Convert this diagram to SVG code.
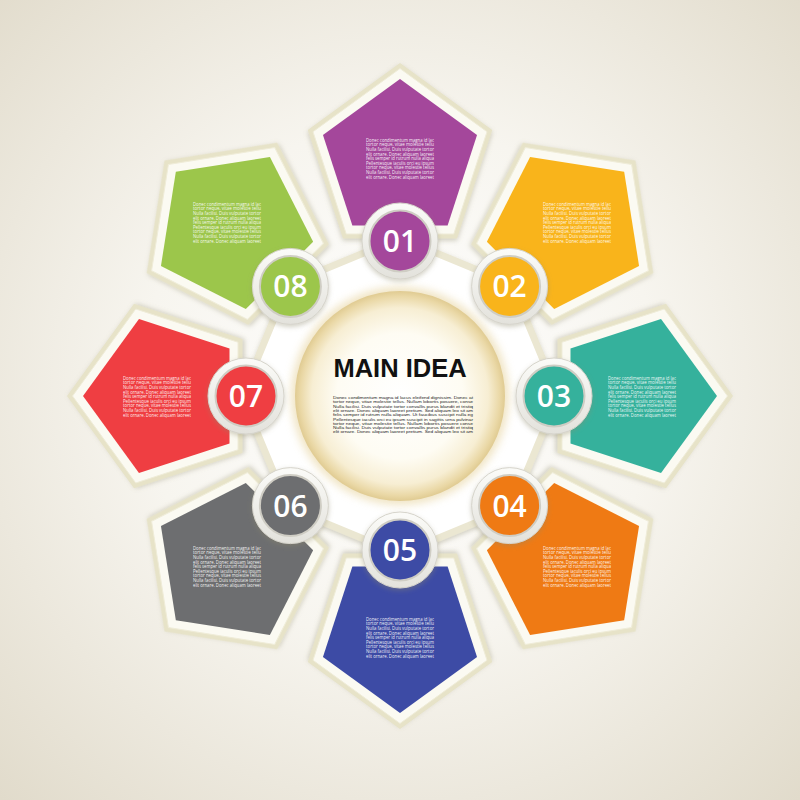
<svg xmlns="http://www.w3.org/2000/svg" xmlns:xlink="http://www.w3.org/1999/xlink" width="800" height="800" viewBox="0 0 800 800">
<defs>
<radialGradient id="bg" cx="50%" cy="48%" r="72%">
<stop offset="0" stop-color="#ffffff"/>
<stop offset="0.45" stop-color="#f7f5ef"/>
<stop offset="1" stop-color="#e1dbcb"/>
</radialGradient>
<radialGradient id="core" cx="50%" cy="50%" r="50%">
<stop offset="0" stop-color="#ffffff"/>
<stop offset="0.6" stop-color="#fefcf3"/>
<stop offset="0.84" stop-color="#f7eed3"/>
<stop offset="0.95" stop-color="#ead8a6"/>
<stop offset="1" stop-color="#e0cb92"/>
</radialGradient>
<linearGradient id="ringg" x1="0" y1="0" x2="0" y2="1">
<stop offset="0" stop-color="#fbfbf8"/>
<stop offset="1" stop-color="#e3e2dc"/>
</linearGradient>
<filter id="sh" x="-20%" y="-20%" width="140%" height="140%">
<feDropShadow dx="0" dy="2" stdDeviation="2.5" flood-color="#8f896c" flood-opacity="0.4"/>
</filter>
<filter id="glow" x="-20%" y="-20%" width="140%" height="140%">
<feGaussianBlur stdDeviation="4"/>
</filter>
<polygon id="pOuter" points="0,-333 92.26,-265.97 57.01,-157.53 -57.01,-157.53 -92.26,-265.97"/>
<polygon id="pInner" points="0,-327.5 87.03,-264.28 53.78,-161.98 -53.78,-161.98 -87.03,-264.28"/>
<polygon id="pCore" points="0,-317 77.04,-261.03 47.61,-170.47 -47.61,-170.47 -77.04,-261.03"/>
<style>
.frame{fill:#e7e3c8;filter:url(#sh)}
.frin{fill:#fbfaf2;stroke:#efecd8;stroke-width:1}
.para{font-family:"Open Sans","Liberation Sans",sans-serif;font-size:4.6px;fill:#ffffff;fill-opacity:0.92}
.cpara{font-family:"Liberation Sans",Arial,sans-serif;font-size:4.3px;fill:#222222}
.num{font-family:"Open Sans","Liberation Sans",sans-serif;font-weight:600;font-size:30px;fill:#ffffff;text-anchor:middle}
.ring{fill:url(#ringg);stroke:#d6d4cb;stroke-width:1;filter:url(#sh)}
.dot{stroke:#cfcdc4;stroke-width:2}
</style>
</defs>

<rect width="800" height="800" fill="url(#bg)"/>

<g id="hub">
<polygon points="400,238 511.7,284.3 558,396 511.7,507.7 400,554 288.3,507.7 242,396 288.3,284.3" fill="#ffffff" stroke="#ebe7d2" stroke-width="7" stroke-linejoin="round" filter="url(#sh)"/>
</g>

<g id="frames">
<g transform="translate(400,396) rotate(0)"><use href="#pOuter" class="frame"/><use href="#pInner" class="frin"/></g>
<g transform="translate(400,396) rotate(45)"><use href="#pOuter" class="frame"/><use href="#pInner" class="frin"/></g>
<g transform="translate(400,396) rotate(90)"><use href="#pOuter" class="frame"/><use href="#pInner" class="frin"/></g>
<g transform="translate(400,396) rotate(135)"><use href="#pOuter" class="frame"/><use href="#pInner" class="frin"/></g>
<g transform="translate(400,396) rotate(180)"><use href="#pOuter" class="frame"/><use href="#pInner" class="frin"/></g>
<g transform="translate(400,396) rotate(225)"><use href="#pOuter" class="frame"/><use href="#pInner" class="frin"/></g>
<g transform="translate(400,396) rotate(270)"><use href="#pOuter" class="frame"/><use href="#pInner" class="frin"/></g>
<g transform="translate(400,396) rotate(315)"><use href="#pOuter" class="frame"/><use href="#pInner" class="frin"/></g>
</g>

<g id="center">
<circle cx="400" cy="396" r="109" fill="#ead9aa" opacity="0.7" filter="url(#glow)"/>
<circle cx="400" cy="396" r="105" fill="url(#core)"/>
<text x="400" y="377" font-family="Liberation Sans, Arial, sans-serif" font-weight="700" font-size="25.5" fill="#111111" text-anchor="middle">MAIN IDEA</text>
<text class="cpara">
<tspan x="333" y="399" textLength="140" lengthAdjust="spacingAndGlyphs">Donec condimentum magna id lacus eleifend dignissim. Donec at</tspan>
<tspan x="333" y="403.3" textLength="140" lengthAdjust="spacingAndGlyphs">tortor neque, vitae molestie tellus. Nullam lobortis posuere, conse</tspan>
<tspan x="333" y="407.6" textLength="140" lengthAdjust="spacingAndGlyphs">Nulla facilisi. Duis vulputate tortor convallis purus blandit et tristiq</tspan>
<tspan x="333" y="411.9" textLength="140" lengthAdjust="spacingAndGlyphs">elit ornare. Donec aliquam laoreet pretium. Sed aliquam leo sit am</tspan>
<tspan x="333" y="416.2" textLength="140" lengthAdjust="spacingAndGlyphs">felis semper id rutrum nulla aliquam. Ut faucibus suscipit nulla eg</tspan>
<tspan x="333" y="420.5" textLength="140" lengthAdjust="spacingAndGlyphs">Pellentesque iaculis orci eu ipsum suscipit in sagittis urna pulvinar</tspan>
<tspan x="333" y="424.8" textLength="140" lengthAdjust="spacingAndGlyphs">tortor neque, vitae molestie tellus. Nullam lobortis posuere conse</tspan>
<tspan x="333" y="429.1" textLength="140" lengthAdjust="spacingAndGlyphs">Nulla facilisi. Duis vulputate tortor convallis purus blandit et tristiq</tspan>
<tspan x="333" y="433.4" textLength="140" lengthAdjust="spacingAndGlyphs">elit ornare. Donec aliquam laoreet pretium. Sed aliquam leo sit am</tspan>
</text>
</g>

<g id="node01">
<use href="#pCore" fill="#a4479b" transform="translate(400,396) rotate(0)"/>
<text class="para">
<tspan x="366" y="141.8" textLength="68" lengthAdjust="spacingAndGlyphs">Donec condimentum magna id lac</tspan>
<tspan x="366" y="146.4" textLength="68" lengthAdjust="spacingAndGlyphs">tortor neque, vitae molestie tellu</tspan>
<tspan x="366" y="151" textLength="68" lengthAdjust="spacingAndGlyphs">Nulla facilisi. Duis vulputate tortor</tspan>
<tspan x="366" y="155.6" textLength="68" lengthAdjust="spacingAndGlyphs">elit ornare. Donec aliquam laoreet</tspan>
<tspan x="366" y="160.2" textLength="68" lengthAdjust="spacingAndGlyphs">felis semper id rutrum nulla aliqua</tspan>
<tspan x="366" y="164.8" textLength="68" lengthAdjust="spacingAndGlyphs">Pellentesque iaculis orci eu ipsum</tspan>
<tspan x="366" y="169.4" textLength="68" lengthAdjust="spacingAndGlyphs">tortor neque, vitae molestie tellus</tspan>
<tspan x="366" y="174" textLength="68" lengthAdjust="spacingAndGlyphs">Nulla facilisi. Duis vulputate tortor</tspan>
<tspan x="366" y="178.6" textLength="68" lengthAdjust="spacingAndGlyphs">elit ornare. Donec aliquam laoreet</tspan>
</text>
<circle class="ring" cx="400" cy="241" r="38"/>
<circle class="dot" cx="400" cy="241" r="30.5" fill="#a4479b"/>
<text class="num" x="400" y="252">01</text>
</g>

<g id="node02">
<use href="#pCore" fill="#f9b41b" transform="translate(400,396) rotate(45)"/>
<text class="para">
<tspan x="543" y="205.8" textLength="68" lengthAdjust="spacingAndGlyphs">Donec condimentum magna id lac</tspan>
<tspan x="543" y="210.4" textLength="68" lengthAdjust="spacingAndGlyphs">tortor neque, vitae molestie tellu</tspan>
<tspan x="543" y="215" textLength="68" lengthAdjust="spacingAndGlyphs">Nulla facilisi. Duis vulputate tortor</tspan>
<tspan x="543" y="219.6" textLength="68" lengthAdjust="spacingAndGlyphs">elit ornare. Donec aliquam laoreet</tspan>
<tspan x="543" y="224.2" textLength="68" lengthAdjust="spacingAndGlyphs">felis semper id rutrum nulla aliqua</tspan>
<tspan x="543" y="228.8" textLength="68" lengthAdjust="spacingAndGlyphs">Pellentesque iaculis orci eu ipsum</tspan>
<tspan x="543" y="233.4" textLength="68" lengthAdjust="spacingAndGlyphs">tortor neque, vitae molestie tellus</tspan>
<tspan x="543" y="238" textLength="68" lengthAdjust="spacingAndGlyphs">Nulla facilisi. Duis vulputate tortor</tspan>
<tspan x="543" y="242.6" textLength="68" lengthAdjust="spacingAndGlyphs">elit ornare. Donec aliquam laoreet</tspan>
</text>
<circle class="ring" cx="509.6" cy="286.4" r="38"/>
<circle class="dot" cx="509.6" cy="286.4" r="30.5" fill="#f9b41b"/>
<text class="num" x="509.6" y="297.4">02</text>
</g>

<g id="node03">
<use href="#pCore" fill="#35b19c" transform="translate(400,396) rotate(90)"/>
<text class="para">
<tspan x="608" y="379.8" textLength="68" lengthAdjust="spacingAndGlyphs">Donec condimentum magna id lac</tspan>
<tspan x="608" y="384.4" textLength="68" lengthAdjust="spacingAndGlyphs">tortor neque, vitae molestie tellu</tspan>
<tspan x="608" y="389" textLength="68" lengthAdjust="spacingAndGlyphs">Nulla facilisi. Duis vulputate tortor</tspan>
<tspan x="608" y="393.6" textLength="68" lengthAdjust="spacingAndGlyphs">elit ornare. Donec aliquam laoreet</tspan>
<tspan x="608" y="398.2" textLength="68" lengthAdjust="spacingAndGlyphs">felis semper id rutrum nulla aliqua</tspan>
<tspan x="608" y="402.8" textLength="68" lengthAdjust="spacingAndGlyphs">Pellentesque iaculis orci eu ipsum</tspan>
<tspan x="608" y="407.4" textLength="68" lengthAdjust="spacingAndGlyphs">tortor neque, vitae molestie tellus</tspan>
<tspan x="608" y="412" textLength="68" lengthAdjust="spacingAndGlyphs">Nulla facilisi. Duis vulputate tortor</tspan>
<tspan x="608" y="416.6" textLength="68" lengthAdjust="spacingAndGlyphs">elit ornare. Donec aliquam laoreet</tspan>
</text>
<circle class="ring" cx="554" cy="396" r="38"/>
<circle class="dot" cx="554" cy="396" r="30.5" fill="#35b19c"/>
<text class="num" x="554" y="407">03</text>
</g>

<g id="node04">
<use href="#pCore" fill="#ef7a14" transform="translate(400,396) rotate(135)"/>
<text class="para">
<tspan x="543" y="549.8" textLength="68" lengthAdjust="spacingAndGlyphs">Donec condimentum magna id lac</tspan>
<tspan x="543" y="554.4" textLength="68" lengthAdjust="spacingAndGlyphs">tortor neque, vitae molestie tellu</tspan>
<tspan x="543" y="559" textLength="68" lengthAdjust="spacingAndGlyphs">Nulla facilisi. Duis vulputate tortor</tspan>
<tspan x="543" y="563.6" textLength="68" lengthAdjust="spacingAndGlyphs">elit ornare. Donec aliquam laoreet</tspan>
<tspan x="543" y="568.2" textLength="68" lengthAdjust="spacingAndGlyphs">felis semper id rutrum nulla aliqua</tspan>
<tspan x="543" y="572.8" textLength="68" lengthAdjust="spacingAndGlyphs">Pellentesque iaculis orci eu ipsum</tspan>
<tspan x="543" y="577.4" textLength="68" lengthAdjust="spacingAndGlyphs">tortor neque, vitae molestie tellus</tspan>
<tspan x="543" y="582" textLength="68" lengthAdjust="spacingAndGlyphs">Nulla facilisi. Duis vulputate tortor</tspan>
<tspan x="543" y="586.6" textLength="68" lengthAdjust="spacingAndGlyphs">elit ornare. Donec aliquam laoreet</tspan>
</text>
<circle class="ring" cx="509.6" cy="505.6" r="38"/>
<circle class="dot" cx="509.6" cy="505.6" r="30.5" fill="#ef7a14"/>
<text class="num" x="509.6" y="516.6">04</text>
</g>

<g id="node05">
<use href="#pCore" fill="#3d4ba5" transform="translate(400,396) rotate(180)"/>
<text class="para">
<tspan x="366" y="620.8" textLength="68" lengthAdjust="spacingAndGlyphs">Donec condimentum magna id lac</tspan>
<tspan x="366" y="625.4" textLength="68" lengthAdjust="spacingAndGlyphs">tortor neque, vitae molestie tellu</tspan>
<tspan x="366" y="630" textLength="68" lengthAdjust="spacingAndGlyphs">Nulla facilisi. Duis vulputate tortor</tspan>
<tspan x="366" y="634.6" textLength="68" lengthAdjust="spacingAndGlyphs">elit ornare. Donec aliquam laoreet</tspan>
<tspan x="366" y="639.2" textLength="68" lengthAdjust="spacingAndGlyphs">felis semper id rutrum nulla aliqua</tspan>
<tspan x="366" y="643.8" textLength="68" lengthAdjust="spacingAndGlyphs">Pellentesque iaculis orci eu ipsum</tspan>
<tspan x="366" y="648.4" textLength="68" lengthAdjust="spacingAndGlyphs">tortor neque, vitae molestie tellus</tspan>
<tspan x="366" y="653" textLength="68" lengthAdjust="spacingAndGlyphs">Nulla facilisi. Duis vulputate tortor</tspan>
<tspan x="366" y="657.6" textLength="68" lengthAdjust="spacingAndGlyphs">elit ornare. Donec aliquam laoreet</tspan>
</text>
<circle class="ring" cx="400" cy="550" r="38"/>
<circle class="dot" cx="400" cy="550" r="30.5" fill="#3d4ba5"/>
<text class="num" x="400" y="561">05</text>
</g>

<g id="node06">
<use href="#pCore" fill="#6d6e70" transform="translate(400,396) rotate(225)"/>
<text class="para">
<tspan x="193" y="549.8" textLength="68" lengthAdjust="spacingAndGlyphs">Donec condimentum magna id lac</tspan>
<tspan x="193" y="554.4" textLength="68" lengthAdjust="spacingAndGlyphs">tortor neque, vitae molestie tellu</tspan>
<tspan x="193" y="559" textLength="68" lengthAdjust="spacingAndGlyphs">Nulla facilisi. Duis vulputate tortor</tspan>
<tspan x="193" y="563.6" textLength="68" lengthAdjust="spacingAndGlyphs">elit ornare. Donec aliquam laoreet</tspan>
<tspan x="193" y="568.2" textLength="68" lengthAdjust="spacingAndGlyphs">felis semper id rutrum nulla aliqua</tspan>
<tspan x="193" y="572.8" textLength="68" lengthAdjust="spacingAndGlyphs">Pellentesque iaculis orci eu ipsum</tspan>
<tspan x="193" y="577.4" textLength="68" lengthAdjust="spacingAndGlyphs">tortor neque, vitae molestie tellus</tspan>
<tspan x="193" y="582" textLength="68" lengthAdjust="spacingAndGlyphs">Nulla facilisi. Duis vulputate tortor</tspan>
<tspan x="193" y="586.6" textLength="68" lengthAdjust="spacingAndGlyphs">elit ornare. Donec aliquam laoreet</tspan>
</text>
<circle class="ring" cx="290.4" cy="505.6" r="38"/>
<circle class="dot" cx="290.4" cy="505.6" r="30.5" fill="#6d6e70"/>
<text class="num" x="290.4" y="516.6">06</text>
</g>

<g id="node07">
<use href="#pCore" fill="#ef3e42" transform="translate(400,396) rotate(270)"/>
<text class="para">
<tspan x="123" y="379.8" textLength="68" lengthAdjust="spacingAndGlyphs">Donec condimentum magna id lac</tspan>
<tspan x="123" y="384.4" textLength="68" lengthAdjust="spacingAndGlyphs">tortor neque, vitae molestie tellu</tspan>
<tspan x="123" y="389" textLength="68" lengthAdjust="spacingAndGlyphs">Nulla facilisi. Duis vulputate tortor</tspan>
<tspan x="123" y="393.6" textLength="68" lengthAdjust="spacingAndGlyphs">elit ornare. Donec aliquam laoreet</tspan>
<tspan x="123" y="398.2" textLength="68" lengthAdjust="spacingAndGlyphs">felis semper id rutrum nulla aliqua</tspan>
<tspan x="123" y="402.8" textLength="68" lengthAdjust="spacingAndGlyphs">Pellentesque iaculis orci eu ipsum</tspan>
<tspan x="123" y="407.4" textLength="68" lengthAdjust="spacingAndGlyphs">tortor neque, vitae molestie tellus</tspan>
<tspan x="123" y="412" textLength="68" lengthAdjust="spacingAndGlyphs">Nulla facilisi. Duis vulputate tortor</tspan>
<tspan x="123" y="416.6" textLength="68" lengthAdjust="spacingAndGlyphs">elit ornare. Donec aliquam laoreet</tspan>
</text>
<circle class="ring" cx="246" cy="396" r="38"/>
<circle class="dot" cx="246" cy="396" r="30.5" fill="#ef3e42"/>
<text class="num" x="246" y="407">07</text>
</g>

<g id="node08">
<use href="#pCore" fill="#9cc64b" transform="translate(400,396) rotate(315)"/>
<text class="para">
<tspan x="193" y="205.8" textLength="68" lengthAdjust="spacingAndGlyphs">Donec condimentum magna id lac</tspan>
<tspan x="193" y="210.4" textLength="68" lengthAdjust="spacingAndGlyphs">tortor neque, vitae molestie tellu</tspan>
<tspan x="193" y="215" textLength="68" lengthAdjust="spacingAndGlyphs">Nulla facilisi. Duis vulputate tortor</tspan>
<tspan x="193" y="219.6" textLength="68" lengthAdjust="spacingAndGlyphs">elit ornare. Donec aliquam laoreet</tspan>
<tspan x="193" y="224.2" textLength="68" lengthAdjust="spacingAndGlyphs">felis semper id rutrum nulla aliqua</tspan>
<tspan x="193" y="228.8" textLength="68" lengthAdjust="spacingAndGlyphs">Pellentesque iaculis orci eu ipsum</tspan>
<tspan x="193" y="233.4" textLength="68" lengthAdjust="spacingAndGlyphs">tortor neque, vitae molestie tellus</tspan>
<tspan x="193" y="238" textLength="68" lengthAdjust="spacingAndGlyphs">Nulla facilisi. Duis vulputate tortor</tspan>
<tspan x="193" y="242.6" textLength="68" lengthAdjust="spacingAndGlyphs">elit ornare. Donec aliquam laoreet</tspan>
</text>
<circle class="ring" cx="290.4" cy="286.4" r="38"/>
<circle class="dot" cx="290.4" cy="286.4" r="30.5" fill="#9cc64b"/>
<text class="num" x="290.4" y="297.4">08</text>
</g>

<g id="connectors"/>
</svg>
